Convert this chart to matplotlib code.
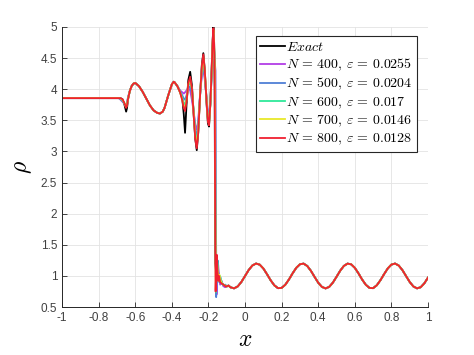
import matplotlib
matplotlib.use("Agg")
import matplotlib.pyplot as plt
import numpy as np

plt.rcParams['mathtext.fontset'] = 'cm'
plt.rcParams['axes.unicode_minus'] = False

# ---- data ----
# flat pre-wave state (shared)
x_flat = [-1.0, -0.70]
rho_flat = [3.857, 3.857]

# first dip (per run)
x_dip = [-0.69, -0.68, -0.67, -0.66, -0.655, -0.65, -0.645, -0.64, -0.63, -0.62]
dip_exact = [3.857, 3.855, 3.84, 3.76, 3.70, 3.64, 3.70, 3.83, 3.97, 4.05]
dip_400 = [3.857, 3.83, 3.80, 3.77, 3.75, 3.75, 3.78, 3.87, 3.97, 4.05]
dip_500 = [3.857, 3.84, 3.81, 3.77, 3.74, 3.73, 3.77, 3.86, 3.97, 4.05]
dip_600 = [3.857, 3.85, 3.82, 3.78, 3.74, 3.72, 3.76, 3.85, 3.97, 4.05]
dip_700 = [3.857, 3.85, 3.83, 3.78, 3.74, 3.71, 3.75, 3.84, 3.97, 4.05]
dip_800 = [3.857, 3.855, 3.84, 3.78, 3.74, 3.70, 3.74, 3.84, 3.97, 4.05]

# smooth entropy wave (shared)
x_smooth = [-0.61, -0.60, -0.58, -0.56, -0.54, -0.52, -0.50, -0.48, -0.465,
            -0.45, -0.44, -0.42, -0.40, -0.39]
rho_smooth = [4.09, 4.10, 4.05, 3.96, 3.85, 3.74, 3.66, 3.62, 3.61,
              3.64, 3.70, 3.90, 4.08, 4.12]

# high-frequency region behind the shock (per run)
x_mid = [-0.385, -0.37, -0.355, -0.343, -0.335, -0.328, -0.32, -0.31, -0.30,
         -0.29, -0.28, -0.272, -0.264, -0.256, -0.245, -0.236, -0.228, -0.22,
         -0.21, -0.203, -0.197, -0.19, -0.183, -0.177, -0.173, -0.169]
mid_exact = [4.11, 4.05, 3.95, 3.85, 3.60, 3.30, 3.75, 4.15, 4.28, 4.05, 3.55,
             3.20, 3.02, 3.30, 3.95, 4.40, 4.58, 4.30, 3.75, 3.45, 3.40, 3.75,
             4.30, 4.80, 5.00, 4.75]
mid_400 = [4.11, 4.05, 3.98, 3.95, 3.93, 3.95, 3.98, 4.02, 3.98, 3.82, 3.62,
           3.42, 3.35, 3.50, 3.95, 4.22, 4.32, 4.15, 3.85, 3.60, 3.55, 3.78,
           4.18, 4.60, 4.78, 4.62]
mid_500 = [4.11, 4.05, 3.97, 3.90, 3.85, 3.83, 3.90, 4.02, 4.05, 3.92, 3.62,
           3.35, 3.22, 3.42, 3.95, 4.28, 4.40, 4.20, 3.85, 3.55, 3.49, 3.75,
           4.20, 4.65, 4.85, 4.65]
mid_600 = [4.11, 4.05, 3.96, 3.86, 3.78, 3.75, 3.85, 4.06, 4.12, 3.98, 3.60,
           3.30, 3.13, 3.36, 3.95, 4.32, 4.48, 4.25, 3.82, 3.52, 3.46, 3.75,
           4.22, 4.70, 4.90, 4.68]
mid_700 = [4.11, 4.05, 3.95, 3.83, 3.72, 3.70, 3.82, 4.08, 4.16, 4.00, 3.58,
           3.25, 3.09, 3.33, 3.95, 4.35, 4.52, 4.28, 3.80, 3.50, 3.44, 3.75,
           4.25, 4.75, 4.95, 4.70]
mid_800 = [4.11, 4.05, 3.95, 3.82, 3.70, 3.65, 3.80, 4.10, 4.20, 4.00, 3.55,
           3.20, 3.05, 3.30, 3.95, 4.38, 4.56, 4.30, 3.78, 3.48, 3.42, 3.75,
           4.28, 4.78, 4.98, 4.72]

# shock and post-shock wiggles (per run)
xs_exact = [-0.166, -0.164, -0.162, -0.158, -0.151, -0.142, -0.128, -0.105, -0.09]
rs_exact = [4.0, 2.0, 1.2, 1.05, 1.10, 1.00, 0.88, 0.83, 0.845]
xs_400 = [-0.162, -0.160, -0.156, -0.152, -0.147, -0.142, -0.136, -0.128,
          -0.12, -0.11, -0.10, -0.09]
rs_400 = [4.3, 2.2, 0.70, 0.95, 1.18, 0.98, 0.86, 0.92, 0.84, 0.82, 0.84, 0.845]
xs_500 = [-0.163, -0.161, -0.158, -0.155, -0.150, -0.146, -0.141, -0.135,
          -0.127, -0.118, -0.108, -0.098, -0.09]
rs_500 = [4.3, 2.2, 0.66, 0.90, 1.25, 1.05, 0.90, 0.98, 0.88, 0.85, 0.86, 0.83, 0.845]
xs_600 = [-0.164, -0.162, -0.159, -0.156, -0.152, -0.148, -0.143, -0.137,
          -0.130, -0.121, -0.110, -0.10, -0.09]
rs_600 = [4.3, 2.3, 0.74, 1.00, 1.25, 1.08, 0.93, 1.00, 0.92, 0.86, 0.85, 0.83, 0.845]
xs_700 = [-0.165, -0.163, -0.160, -0.157, -0.154, -0.150, -0.145, -0.140,
          -0.133, -0.124, -0.112, -0.10, -0.09]
rs_700 = [4.3, 2.4, 0.78, 1.05, 1.30, 1.08, 0.92, 1.02, 0.92, 0.87, 0.85, 0.83, 0.845]
xs_800 = [-0.166, -0.164, -0.161, -0.158, -0.155, -0.151, -0.147, -0.142,
          -0.136, -0.128, -0.118, -0.105, -0.09]
rs_800 = [4.3, 2.5, 0.75, 1.05, 1.34, 1.10, 0.92, 1.00, 0.90, 0.88, 0.86, 0.83, 0.845]

# undisturbed sine wave ahead of the shock (shared)
x_wave = [-0.08, -0.06, -0.04, -0.02, 0.00, 0.02, 0.04, 0.06, 0.08, 0.10,
          0.12, 0.14, 0.16, 0.18, 0.20, 0.22, 0.24, 0.26, 0.28, 0.30, 0.32,
          0.34, 0.36, 0.38, 0.40, 0.42, 0.44, 0.46, 0.48, 0.50, 0.52, 0.54,
          0.56, 0.58, 0.60, 0.62, 0.64, 0.66, 0.68, 0.70, 0.72, 0.74, 0.76,
          0.78, 0.80, 0.82, 0.84, 0.86, 0.88, 0.90, 0.92, 0.94, 0.96, 0.98, 1.00]
rho_wave = [0.818, 0.801, 0.832, 0.904, 1.000, 1.096, 1.168, 1.199, 1.182, 1.120,
            1.028, 0.930, 0.849, 0.804, 0.808, 0.859, 0.944, 1.043, 1.131, 1.188,
            1.198, 1.160, 1.082, 0.985, 0.891, 0.824, 0.800, 0.825, 0.893, 0.987,
            1.084, 1.161, 1.198, 1.187, 1.130, 1.041, 0.942, 0.858, 0.808, 0.804,
            0.850, 0.932, 1.030, 1.121, 1.183, 1.199, 1.167, 1.094, 0.998, 0.903,
            0.831, 0.801, 0.819, 0.882, 0.974]

labels = [r'$Exact$',
          r'$N\,=\,400,\,\varepsilon\,=\,0.0255$',
          r'$N\,=\,500,\,\varepsilon\,=\,0.0204$',
          r'$N\,=\,600,\,\varepsilon\,=\,0.017$',
          r'$N\,=\,700,\,\varepsilon\,=\,0.0146$',
          r'$N\,=\,800,\,\varepsilon\,=\,0.0128$']
colors = ['black', '#b23ee6', '#4f7fd6', '#2ee89a', '#e8e82a', '#f02030']

runs = [(dip_exact, mid_exact, xs_exact, rs_exact),
        (dip_400, mid_400, xs_400, rs_400),
        (dip_500, mid_500, xs_500, rs_500),
        (dip_600, mid_600, xs_600, rs_600),
        (dip_700, mid_700, xs_700, rs_700),
        (dip_800, mid_800, xs_800, rs_800)]

fig = plt.figure(figsize=(4.74, 3.55), dpi=100)
ax = fig.add_axes([0.131, 0.135, 0.772, 0.789])

for (dip, mid, xs, rs), lab, c in zip(runs, labels, colors):
    x = x_flat + x_dip + x_smooth + x_mid + xs + x_wave
    y = rho_flat + dip + rho_smooth + mid + rs + rho_wave
    ax.plot(x, y, color=c, lw=1.3, label=lab)

ax.set_xlim(-1, 1)
ax.set_ylim(0.5, 5)
xt = np.round(np.arange(-1, 1.01, 0.2), 1)
yt = np.arange(0.5, 5.01, 0.5)
ax.set_xticks(xt)
ax.set_xticklabels(['-1', '-0.8', '-0.6', '-0.4', '-0.2', '0', '0.2', '0.4', '0.6', '0.8', '1'])
ax.set_yticks(yt)
ax.set_yticklabels(['0.5', '1', '1.5', '2', '2.5', '3', '3.5', '4', '4.5', '5'])
ax.tick_params(direction='in', length=3.5, width=0.6, labelsize=8.5,
               colors='#262626', labelcolor='#404040')
for lbl in ax.get_xticklabels() + ax.get_yticklabels():
    lbl.set_family('Liberation Sans')
ax.grid(True, color='#e3e3e3', lw=0.6)
ax.set_axisbelow(True)
ax.spines['top'].set_visible(False)
ax.spines['right'].set_visible(False)
ax.spines['left'].set_color('#262626')
ax.spines['bottom'].set_color('#262626')
ax.spines['left'].set_linewidth(0.7)
ax.spines['bottom'].set_linewidth(0.7)

ax.set_xlabel(r'$x$', fontsize=17, labelpad=2)
ax.set_ylabel(r'$\rho$', fontsize=17, labelpad=5)

leg = ax.legend(loc='upper right', bbox_to_anchor=(0.970, 0.968), fontsize=10,
                handlelength=1.8, handletextpad=0.1, borderpad=0.3,
                labelspacing=0.2, fancybox=False, framealpha=1,
                edgecolor='#262626', borderaxespad=0)
leg.get_frame().set_linewidth(0.8)

fig.savefig('out.png', dpi=100)
